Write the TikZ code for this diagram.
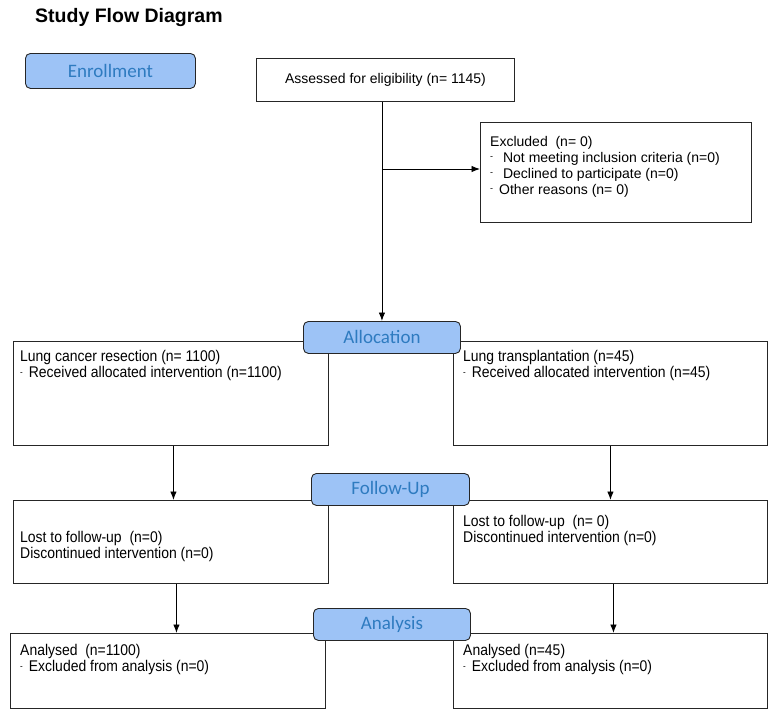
\documentclass[tikz,border=0pt]{standalone}
\usepackage{fontspec}
\setmainfont{Liberation Sans}
\newfontfamily\labfont{Carlito}
\newfontfamily\narrowfont[FakeStretch=0.9]{Liberation Sans}
\usetikzlibrary{arrows.meta}
\definecolor{labfill}{HTML}{9DC3F6}
\definecolor{labtext}{HTML}{2E7BC0}
\newcommand{\tick}{{\fontsize{9}{9}\selectfont\raisebox{0.55ex}{-}}\hspace{6pt}}
\begin{document}
\begin{tikzpicture}[x=1pt,y=-1pt,
  box/.style={draw=black!85,line width=0.9pt,fill=white,anchor=north west,inner sep=0pt},
  lab/.style={draw=black!85,line width=0.9pt,fill=labfill,rounded corners=5pt,anchor=north west,inner sep=0pt,
     font=\labfont\fontsize{19}{19}\selectfont,text=labtext},
  txt/.style={anchor=north west,inner sep=0pt,align=left,font=\fontsize{14}{16}\selectfont},
  ntxt/.style={anchor=north west,inner sep=0pt,align=left,font=\narrowfont\fontsize{15.5}{16.5}\selectfont},
  arr/.style={line width=0.9pt,-{Latex[length=8.5pt,width=6.5pt]}}]
\useasboundingbox[fill=white] (0,0) rectangle (782,718);

\node[anchor=west,inner sep=0pt,font=\bfseries\fontsize{19.5}{19.5}\selectfont] (title) at (35,17) {Study Flow Diagram};

% boxes
\node[box,minimum width=258pt,minimum height=43pt] (assess) at (256,58) {};
\node[font=\fontsize{14}{16}\selectfont] (assesst) at (assess.center) {Assessed for eligibility (n= 1145)};
\node[box,minimum width=271pt,minimum height=100pt] (excl) at (480,122) {};
\node[txt] (exclt) at (490,136) {Excluded\ \ (n= 0)\\\tick\ Not meeting inclusion criteria (n=0)\\\tick\ Declined to participate (n=0)\\\tick Other reasons (n= 0)};

\node[box,minimum width=315pt,minimum height=104pt] (lalloc) at (13,341) {};
\node[box,minimum width=314pt,minimum height=104pt] (ralloc) at (453,341) {};
\node[ntxt] (lallt) at (20,350) {Lung cancer resection (n= 1100)\\\tick Received allocated intervention (n=1100)};
\node[ntxt] (rallt) at (463,350) {Lung transplantation (n=45)\\\tick Received allocated intervention (n=45)};

\node[box,minimum width=315pt,minimum height=83pt] (lfu) at (13,500) {};
\node[box,minimum width=314pt,minimum height=83pt] (rfu) at (453,500) {};
\node[ntxt] (lfut) at (20,531) {Lost to follow-up\ \ (n=0)\\Discontinued intervention (n=0)};
\node[ntxt] (rfut) at (463,515) {Lost to follow-up\ \ (n= 0)\\Discontinued intervention (n=0)};

\node[box,minimum width=315pt,minimum height=75pt] (lan) at (10,633) {};
\node[box,minimum width=314pt,minimum height=75pt] (ran) at (453,633) {};
\node[ntxt] (lant) at (20,644) {Analysed\ \ (n=1100)\\\tick Excluded from analysis (n=0)};
\node[ntxt] (rant) at (463,644) {Analysed (n=45)\\\tick Excluded from analysis (n=0)};

% labels
\node[lab,minimum width=170pt,minimum height=35pt] (enroll) at (25,53) {Enrollment};
\node[lab,minimum width=157pt,minimum height=32pt] (alloc) at (303,321) {Allocation};
\node[lab,minimum width=158pt,minimum height=32pt] (fu) at (311,473) {Follow-Up};
\node[lab,minimum width=157pt,minimum height=32pt] (an) at (313,608) {Analysis};

% connectors
\draw[arr] (alloc.north |- assess.south) -- (alloc.north);
\coordinate (branch) at (alloc.north |- 0,169);
\draw[arr] (branch) -- (excl.west |- branch);
\draw[arr] ([xshift=2.5pt]lalloc.south) -- ([xshift=2.5pt]lalloc.south |- lfu.north);
\draw[arr] (ralloc.south) -- (ralloc.south |- rfu.north);
\draw[arr] ([xshift=5.5pt]lfu.south) -- ([xshift=5.5pt]lfu.south |- lan.north);
\draw[arr] ([xshift=3pt]rfu.south) -- ([xshift=3pt]rfu.south |- ran.north);
\end{tikzpicture}
\end{document}
